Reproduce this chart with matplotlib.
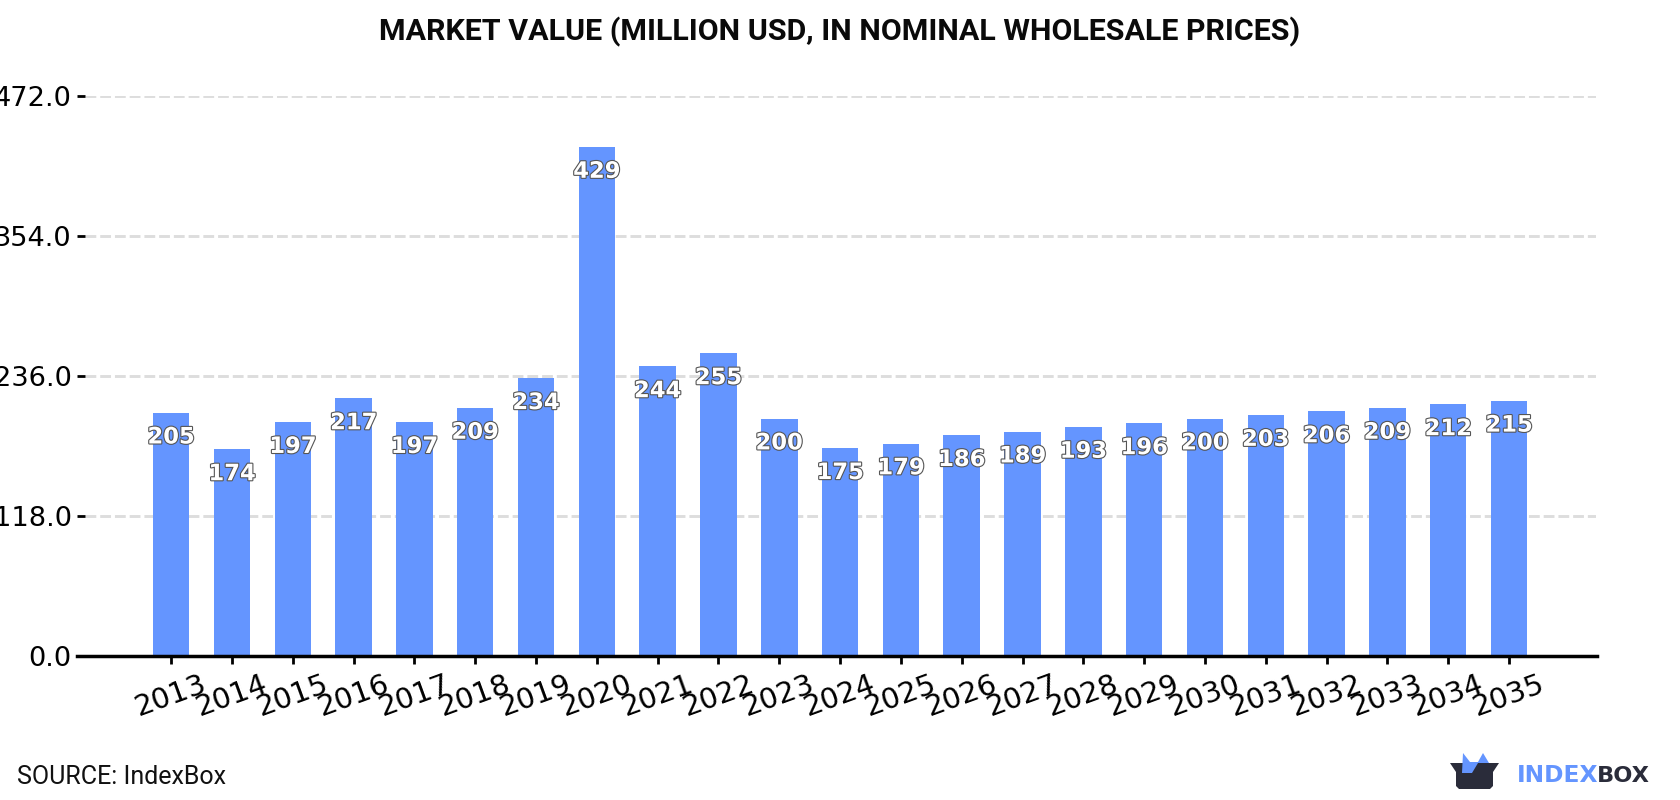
import matplotlib
matplotlib.use('Agg')
from matplotlib import pyplot as plt
from matplotlib import patheffects
from matplotlib.patches import Polygon

years = [str(y) for y in range(2013, 2036)]
values = [205, 174, 197, 217, 197, 209, 234, 429, 244, 255, 200, 175,
          179, 186, 189, 193, 196, 200, 203, 206, 209, 212, 215]
y_ticks = [0.0, 118.0, 236.0, 354.0, 472.0]

W, H = 1680, 800


def fx(px):
    return px / W


def fy(py):
    return 1 - py / H


fig = plt.figure(figsize=(W / 100, H / 100), dpi=100)
ax = fig.add_axes([fx(85), fy(655.8), fx(1596 - 85), (655.8 - 96) / H])

x = list(range(len(years)))
ax.bar(x, values, width=0.6, color='#6495ff', zorder=2)
ax.set_xlim(-1.417, 23.43)
ax.set_ylim(0, 472)

ax.set_yticks(y_ticks)
ax.set_yticklabels([f'{t:.1f}' for t in y_ticks], fontsize=19.6, color='black')
ax.set_xticks(x)
ax.set_xticklabels(years, fontsize=21, rotation=20, color='black')
ax.tick_params(axis='both', length=5.5, width=2, color='black')
ax.tick_params(axis='x', pad=5)
ax.tick_params(axis='y', pad=4)
ax.grid(axis='y', color='#dddddd', linewidth=2.1, dashes=(3.7, 1.35), zorder=1)
for side in ['left', 'right', 'top']:
    ax.spines[side].set_visible(False)
ax.spines['bottom'].set_linewidth(2.5)
ax.spines['bottom'].set_bounds(-1.55, 23.44)
ax.spines['bottom'].set_zorder(5)

outline = [patheffects.withStroke(linewidth=1.6, foreground='#555555')]
for i, v in enumerate(values):
    ax.annotate(str(v), (i, v), xytext=(0, -17.5), textcoords='offset points',
                ha='center', va='center', fontsize=16.3, fontweight='bold',
                color='white', path_effects=outline, zorder=4)

fig.text(fx(840), fy(32), 'MARKET VALUE (MILLION USD, IN NOMINAL WHOLESALE PRICES)',
         ha='center', va='center', fontsize=21.9, fontweight='bold',
         family='Roboto', color='#0a0a0a')
fig.text(fx(17), fy(777), 'SOURCE: IndexBox', ha='left', va='center',
         fontsize=18, family='Roboto', color='#111111')

# logo: dark box with blue flaps on top of it, then the wordmark
overlay = fig.add_axes([0, 0, 1, 1], facecolor='none')
overlay.set_xlim(0, W)
overlay.set_ylim(H, 0)
overlay.axis('off')
overlay.add_patch(Polygon([(1450, 763), (1499, 763), (1493, 772), (1493, 786),
                           (1490, 789), (1459, 789), (1456, 786), (1456, 772)],
                          closed=True, color='#2a2c3a', lw=0, zorder=1))
overlay.add_patch(Polygon([(1462, 773), (1463, 753), (1470, 762), (1478, 762),
                           (1483, 753), (1489, 763), (1478, 763), (1472, 773)],
                          closed=True, color='#6495ff', lw=0, zorder=2))
overlay.text(1517, 782, 'INDEX', ha='left', va='baseline', fontsize=16.8,
             fontweight='bold', color='#6495ff')
overlay.text(1597, 782, 'BOX', ha='left', va='baseline', fontsize=16.2,
             fontweight='bold', color='#2a2c3a')

fig.savefig('out.png', dpi=100, facecolor='white')
